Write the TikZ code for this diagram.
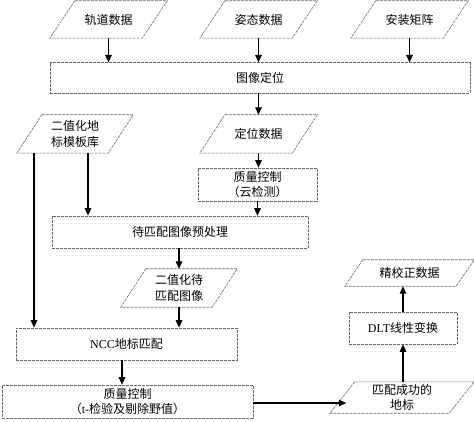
\documentclass[tikz,border=0pt]{standalone}
\usepackage{fontspec}
\setmainfont{Liberation Serif}
\newfontfamily\cjk{Noto Sans CJK SC}
\usetikzlibrary{arrows.meta,calc}
\tikzset{
  border/.style={draw=black!60, dash pattern=on 3pt off 1pt, line width=0.6pt},
  txt/.style={inner sep=0pt, align=center, font=\cjk\fontsize{12}{15.5}\selectfont},
  box/.style={txt, border, rectangle},
  pbody/.style={txt, rectangle},
  arr/.style={-{Triangle[length=7.5pt,width=6.5pt]}, line width=1.4pt},
}
\newcommand\pgram[2]{\draw[border] ([xshift=#2]#1.north west) -- ([xshift=#2]#1.north east) -- ([xshift=-#2]#1.south east) -- ([xshift=-#2]#1.south west) -- cycle;}
\begin{document}
\begin{tikzpicture}[x=1pt,y=-1pt]
\useasboundingbox (0,0) rectangle (474,422);
% data parallelograms
\node[pbody, minimum width=92pt, minimum height=37pt] (orbit) at (108.5,19.5) {轨道数据};
\node[pbody, minimum width=92pt, minimum height=37pt] (att) at (258.5,19.5) {姿态数据};
\node[pbody, minimum width=92pt, minimum height=37pt] (inst) at (409.5,19.5) {安装矩阵};
\node[pbody, minimum width=91pt, minimum height=38pt] (tmpl) at (75,134) {二值化地\\标模板库};
\node[pbody, minimum width=92pt, minimum height=38pt] (locd) at (258.5,134) {定位数据};
\node[pbody, minimum width=91pt, minimum height=38pt] (binimg) at (179,288) {二值化待\\匹配图像};
\node[pbody, minimum width=111pt, minimum height=26pt] (fine) at (409.5,273) {精校正数据};
\node[pbody, minimum width=119pt, minimum height=31pt] (match) at (402,397.5) {匹配成功的\\地标};
\pgram{orbit}{12.5pt}
\pgram{att}{12.5pt}
\pgram{inst}{12.5pt}
\pgram{tmpl}{12.5pt}
\pgram{locd}{12.5pt}
\pgram{binimg}{12.5pt}
\pgram{fine}{9pt}
\pgram{match}{12.5pt}
% process boxes
\node[box, minimum width=420pt, minimum height=30.3pt] (loc) at (260,77.85) {图像定位};
\node[box, minimum width=119pt, minimum height=33pt] (qc1) at (257.5,184.5) {质量控制\\（云检测）};
\node[box, minimum width=256pt, minimum height=32pt] (prep) at (180,232) {待匹配图像预处理};
\node[box, minimum width=221pt, minimum height=32pt] (ncc) at (126.5,344) {{\rmfamily NCC}地标匹配};
\node[box, minimum width=251pt, minimum height=33pt] (qc2) at (127.5,401.5) {质量控制\\（{\rmfamily t-}检验及剔除野值）};
\node[box, minimum width=108pt, minimum height=32pt] (dlt) at (403,328) {{\rmfamily DLT}线性变换};
% arrows
\draw[arr] (orbit.south) -- (orbit.south |- loc.north);
\draw[arr] (att.south) -- (att.south |- loc.north);
\draw[arr] (inst.south) -- (inst.south |- loc.north);
\draw[arr] (loc.south -| locd.north) -- (locd.north);
\draw[arr] (locd.south) -- (locd.south |- qc1.north);
\draw[arr] (qc1.south) -- (qc1.south |- prep.north);
\draw[arr] ([xshift=13pt]tmpl.south) -- ([xshift=13pt]tmpl.south |- prep.north);
\draw[arr] ([xshift=-41pt]tmpl.south) -- ([xshift=-41pt]tmpl.south |- ncc.north);
\draw[arr] (prep.south -| binimg.north) -- (binimg.north);
\draw[arr] (binimg.south) -- (binimg.south |- ncc.north);
\draw[arr] ([xshift=-4.5pt]ncc.south) -- ([xshift=-4.5pt]ncc.south |- qc2.north);
\draw[arr] ([yshift=-1.5pt]qc2.east) -- ([yshift=-1.5pt,xshift=4pt]qc2.east -| match.west);
\draw[arr] (dlt.south |- match.north) -- (dlt.south);
\draw[arr] (dlt.north) -- (dlt.north |- fine.south);
\end{tikzpicture}
\end{document}
